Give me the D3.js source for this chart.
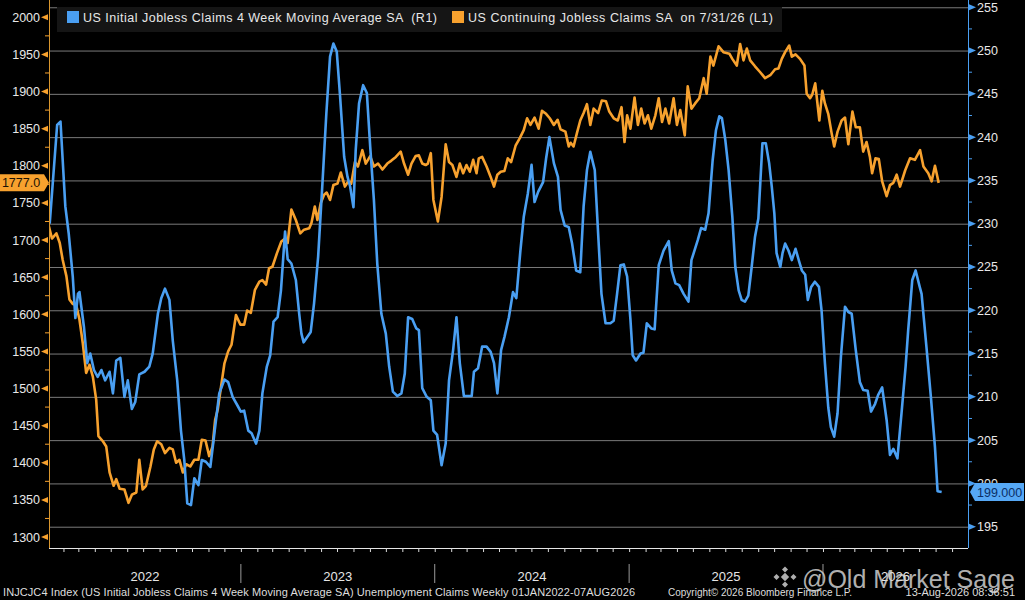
<!DOCTYPE html>
<html>
<head>
<meta charset="utf-8">
<script src="https://cdn.jsdelivr.net/npm/d3@7"></script>
<style>
  html, body { margin: 0; padding: 0; background: #000; }
  svg { display: block; font-family: "Liberation Sans", Arial, sans-serif; }
</style>
</head>
<body>
<svg id="chart" width="1025" height="600"></svg>
<script>
// weeks counted from 4 Jan 2022
const initialWeeks = [0.3,2.3,3.2,4.5,5.4,6.5,7.2,7.9,8.3,9.5,10.4,11.2,12.2,13.2,14.2,15.2,16.4,17.3,18.2,19.3,20.4,21.3,22.4,23.3,24.4,25.8,27.1,28.0,29.4,30.3,31.3,32.5,33.4,34.6,35.6,36.5,37.3,38.3,39.2,40.3,41.2,42.3,43.5,44.6,45.9,47.3,48.3,49.5,50.8,51.7,52.6,53.7,54.6,55.8,56.7,57.5,58.7,59.6,60.5,61.6,62.5,63.6,64.3,65.3,66.5,67.4,68.0,68.6,70.5,71.4,72.5,73.7,74.7,75.7,76.6,77.5,78.4,79.5,80.4,81.1,82.0,82.6,83.5,84.6,85.6,86.5,87.5,88.4,89.5,90.7,91.6,92.6,93.8,94.9,95.8,96.7,97.8,98.9,99.6,100.5,101.7,102.8,103.5,104.5,105.7,106.8,107.7,108.8,109.7,110.6,111.7,113.8,114.4,115.5,116.6,117.8,118.9,119.8,120.7,121.7,122.6,123.8,124.9,125.8,126.9,127.8,128.9,129.9,130.7,131.7,133.0,133.8,134.7,135.9,137.0,137.7,138.8,139.9,140.8,141.9,143.0,143.9,144.8,145.7,146.9,147.8,148.7,149.8,151.1,152.0,152.9,153.8,154.7,155.6,156.5,157.1,158.0,159.2,160.0,160.9,162.1,163.0,164.1,165.4,166.8,167.6,168.6,169.6,170.8,172.1,172.9,173.5,174.6,175.5,176.6,177.5,178.6,179.5,180.4,181.1,182.0,182.9,183.9,184.7,185.6,186.4,187.3,188.2,189.1,190.0,190.9,192.0,192.9,193.8,194.5,195.2,195.8,196.8,197.4,198.1,199.0,199.9,200.9,201.9,202.6,203.5,204.2,205.1,206.1,207.2,207.9,208.8,209.7,210.4,211.3,212.2,213.1,214.2,215.1,216.0,217.1,218.2,219.1,220.3,221.2,222.3,223.1,224.2,225.4,226.3,227.2,228.3,229.4,230.5,231.2,232.3,233.2,234.3,234.8,236.1,237.3,238.4,239.1,240.2];
const initialClaims = [230.0,241.4,241.8,232.0,228.9,223.9,219.1,221.9,222.1,218.1,213.9,215.0,213.1,212.3,213.1,211.9,212.9,210.4,214.2,214.5,210.0,211.9,208.6,209.4,212.6,212.9,213.5,215.0,219.6,221.4,222.5,221.2,216.5,211.9,206.1,202.7,197.7,197.5,200.6,199.8,202.7,202.5,201.9,205.8,210.4,212.0,211.7,210.0,209.0,208.3,208.4,206.1,205.8,204.6,206.1,210.4,213.5,214.8,218.7,219.2,222.3,229.1,225.9,225.4,223.5,219.6,217.3,216.3,217.5,220.8,226.2,235.0,242.7,249.3,250.8,249.9,244.7,237.7,235.4,234.3,231.9,238.5,243.9,246.0,245.1,238.9,232.7,225.4,219.6,217.3,213.5,210.6,210.1,210.4,212.7,219.2,219.0,217.9,217.7,211.0,210.0,209.6,206.1,205.6,202.1,204.6,211.9,215.4,219.2,213.9,210.1,210.1,212.9,213.3,215.8,215.8,215.2,213.9,210.4,215.4,216.9,219.2,222.1,221.4,226.9,230.8,233.5,236.8,232.5,233.7,234.8,237.5,240.0,237.0,235.4,231.6,229.8,229.6,227.7,224.6,224.4,232.0,236.2,238.3,236.2,228.9,221.9,218.5,218.5,218.8,221.9,225.2,225.3,223.9,218.9,214.8,214.2,215.0,215.1,218.5,217.9,217.8,225.2,226.9,228.0,224.6,223.1,222.9,221.9,221.0,225.8,226.6,228.1,229.5,229.3,231.2,237.3,240.8,242.4,242.2,239.7,236.2,230.8,225.0,222.3,221.2,221.0,221.7,225.0,228.5,230.6,239.3,239.3,237.0,234.3,231.2,226.6,225.0,226.6,227.7,226.9,225.8,227.1,225.6,224.6,224.1,221.2,222.7,223.3,222.7,220.0,213.9,208.8,206.5,205.4,208.1,214.6,220.4,219.8,219.6,215.4,211.7,210.8,210.7,208.3,209.2,210.2,211.1,207.3,203.3,204.0,202.9,208.1,213.5,217.7,223.5,224.6,222.7,221.9,215.8,210.0,204.2,199.1,199.0];

const continuingWeeks = [0.0,0.9,2.1,3.0,3.8,4.8,5.6,6.5,7.4,8.3,9.2,10.1,11.0,11.9,12.8,13.4,14.6,15.5,16.4,17.5,18.2,19.1,20.4,21.5,22.4,23.6,24.4,25.3,26.2,27.4,28.3,29.2,30.3,31.3,32.5,33.4,34.3,35.2,36.1,37.0,38.1,39.2,40.3,41.2,42.2,43.2,44.1,44.8,45.5,46.4,47.3,48.3,49.2,50.4,51.6,52.6,53.4,54.4,55.5,56.7,57.5,58.5,59.3,60.2,61.4,62.6,63.6,64.3,65.3,66.5,67.7,68.7,70.1,70.7,71.6,72.3,73.2,74.1,74.8,75.7,76.6,77.7,78.6,79.7,80.6,81.4,82.4,83.2,84.4,85.3,86.5,87.5,88.6,89.8,91.1,92.2,93.4,94.7,95.6,96.7,97.6,98.7,99.6,100.5,101.4,102.0,102.8,103.5,104.7,105.7,106.8,107.7,108.6,109.7,110.6,111.5,112.4,113.3,114.2,115.1,115.7,116.6,117.8,118.9,119.8,120.7,121.6,122.6,123.5,124.4,125.6,126.7,127.8,128.7,129.6,130.7,131.8,132.7,133.8,134.8,135.9,136.9,137.7,139.0,139.9,140.4,141.2,142.1,143.0,143.9,144.8,145.7,146.6,147.8,148.8,149.9,150.8,152.0,153.1,154.1,154.9,155.6,156.5,157.6,158.5,159.4,160.3,161.2,162.1,163.2,164.1,165.0,165.9,166.9,168.1,169.0,169.9,171.1,171.9,172.9,173.9,175.0,176.2,177.0,178.0,178.8,180.2,181.5,183.1,183.9,185.1,186.0,186.9,187.8,188.7,190.0,191.4,192.7,194.1,195.4,196.3,197.2,198.1,199.2,199.9,200.9,202.1,203.3,203.9,204.8,205.4,206.2,206.9,207.3,208.1,208.8,209.7,210.6,211.3,212.2,213.3,214.2,215.1,216.2,217.1,218.2,219.1,220.0,220.9,221.5,222.4,223.3,224.2,225.4,226.3,227.2,228.1,229.0,230.4,231.7,233.0,234.4,235.3,236.6,237.5,238.4,239.4];
const continuingClaims = [1720,1702,1709,1696,1673,1651,1620,1614,1613,1593,1561,1521,1532,1516,1485,1436,1429,1422,1387,1369,1378,1365,1364,1346,1357,1360,1404,1364,1369,1395,1418,1429,1425,1413,1420,1418,1400,1404,1387,1398,1395,1404,1404,1431,1430,1409,1422,1458,1472,1503,1534,1550,1559,1599,1586,1586,1605,1602,1633,1644,1646,1640,1662,1664,1682,1698,1702,1696,1741,1727,1709,1714,1716,1723,1745,1727,1750,1761,1764,1754,1774,1776,1791,1772,1779,1776,1805,1799,1821,1803,1813,1799,1803,1795,1803,1807,1812,1819,1803,1788,1803,1813,1814,1803,1801,1803,1817,1754,1725,1758,1829,1805,1801,1785,1803,1790,1801,1792,1808,1790,1810,1812,1799,1785,1772,1788,1792,1793,1810,1805,1827,1837,1848,1864,1855,1865,1850,1874,1870,1864,1855,1862,1849,1846,1826,1831,1826,1844,1861,1871,1883,1855,1877,1871,1888,1887,1873,1864,1861,1879,1832,1868,1850,1892,1855,1877,1857,1868,1850,1868,1891,1859,1877,1857,1891,1855,1875,1841,1907,1877,1884,1891,1918,1897,1947,1935,1961,1953,1951,1944,1935,1964,1942,1958,1942,1934,1926,1918,1922,1930,1931,1944,1953,1962,1947,1950,1944,1935,1897,1891,1896,1911,1879,1861,1901,1884,1870,1844,1826,1846,1861,1865,1829,1873,1852,1852,1819,1832,1812,1790,1810,1809,1779,1759,1774,1777,1788,1772,1794,1810,1808,1821,1799,1790,1779,1800,1777];

const leftTicks = d3.range(1300, 2001, 50);
const rightTicks = d3.range(195, 256, 5);
const years = [2022, 2023, 2024, 2025, 2026];

const lastContinuing = "1777.0";
const lastInitial = "199.000";

const legendInitial = "US Initial Jobless Claims 4 Week Moving Average SA  (R1)";
const legendContinuing = "US Continuing Jobless Claims SA  on 7/31/26 (L1)";
const footerLeft = "INJCJC4 Index (US Initial Jobless Claims 4 Week Moving Average SA) Unemployment Claims Weekly 01JAN2022-07AUG2026";
const footerMid = "Copyright\u00a9 2026 Bloomberg Finance L.P.";
const footerRight = "13-Aug-2026 08:36:51";

const blue = "#4a9ff2";
const orange = "#f7a12e";

const weekZero = new Date(2022, 0, 4);
function weekDate(w) {
    return new Date(weekZero.getTime() + w * 7 * 864e5);
}

const initialData = d3.zip(initialWeeks, initialClaims).map(d => ({date: weekDate(d[0]), value: d[1]}));
const continuingData = d3.zip(continuingWeeks, continuingClaims).map(d => ({date: weekDate(d[0]), value: d[1]}));

const plot = {left: 49, right: 968, top: 0, bottom: 548};

const svg = d3.select("#chart");
svg.append("rect").attr("width", 1025).attr("height", 600).attr("fill", "#000");

const x = d3.scaleTime()
    .domain([new Date(2022, 0, 1), new Date(2026, 9, 1)])
    .range([47, plot.right]);
const yL = d3.scaleLinear().domain([1285.2, 2023.3]).range([plot.bottom, plot.top]);
const yR = d3.scaleLinear().domain([192.54, 255.84]).range([plot.bottom, plot.top]);

svg.append("clipPath").attr("id", "plot-clip")
    .append("rect")
    .attr("x", plot.left).attr("y", plot.top)
    .attr("width", plot.right - plot.left).attr("height", plot.bottom - plot.top);

// grid lines on the right axis ticks
svg.append("g")
    .attr("transform", "translate(" + plot.left + ",0)")
    .call(d3.axisRight(yR).tickValues(rightTicks).tickSize(plot.right - plot.left).tickFormat(""))
    .call(g => g.select(".domain").remove())
    .selectAll("line").attr("stroke", "#7a7a7a").attr("stroke-width", 1);

// legend box
const legend = svg.append("g").attr("class", "legend");
legend.append("rect").attr("x", 57).attr("y", 7).attr("width", 725).attr("height", 25).attr("fill", "#151515");
legend.append("rect").attr("x", 67).attr("y", 11).attr("width", 12).attr("height", 12).attr("fill", blue);
legend.append("text").attr("x", 83).attr("y", 22).attr("fill", "#e8e8e8")
    .attr("textLength", 354).attr("lengthAdjust", "spacing")
    .style("font-size", "12.5px").style("white-space", "pre").text(legendInitial);
legend.append("rect").attr("x", 452).attr("y", 11).attr("width", 12).attr("height", 12).attr("fill", orange);
legend.append("text").attr("x", 468).attr("y", 22).attr("fill", "#e8e8e8")
    .attr("textLength", 305).attr("lengthAdjust", "spacing")
    .style("font-size", "12.5px").style("white-space", "pre").text(legendContinuing);

// lines
const lines = svg.append("g").attr("clip-path", "url(#plot-clip)");
lines.append("path")
    .datum(continuingData)
    .attr("fill", "none").attr("stroke", orange).attr("stroke-width", 2.6)
    .attr("stroke-linejoin", "round")
    .attr("d", d3.line().x(d => x(d.date)).y(d => yL(d.value)));
lines.append("path")
    .datum(initialData)
    .attr("fill", "none").attr("stroke", blue).attr("stroke-width", 2.6)
    .attr("stroke-linejoin", "round")
    .attr("d", d3.line().x(d => x(d.date)).y(d => yR(d.value)));

// bottom axis
svg.append("line")
    .attr("x1", plot.left).attr("x2", plot.right)
    .attr("y1", plot.bottom + 0.5).attr("y2", plot.bottom + 0.5)
    .attr("stroke", "#e6e6e6").attr("stroke-width", 1.2);
svg.append("g")
    .attr("transform", "translate(0," + plot.bottom + ")")
    .call(d3.axisBottom(x)
        .tickValues(d3.timeMonth.range(new Date(2022, 1, 1), new Date(2026, 9, 1)))
        .tickSize(4).tickFormat(""))
    .call(g => g.select(".domain").remove())
    .selectAll("line").attr("stroke", "#dcdcdc");

const yearStarts = d3.timeYear.range(new Date(2023, 0, 1), new Date(2026, 1, 1));
svg.append("g").selectAll("line")
    .data(yearStarts).enter().append("line")
    .attr("x1", d => x(d)).attr("x2", d => x(d))
    .attr("y1", 564).attr("y2", 583)
    .attr("stroke", "#9a9a9a").attr("stroke-width", 1);

svg.append("g").selectAll("text")
    .data(years).enter().append("text")
    .attr("x", d => {
        const a = Math.max(x(new Date(d, 0, 1)), plot.left);
        const b = Math.min(x(new Date(d + 1, 0, 1)), plot.right);
        return (a + b) / 2;
    })
    .attr("y", 581)
    .attr("text-anchor", "middle")
    .attr("fill", "#e6e6e6")
    .style("font-size", "13px")
    .text(d => d);

// left axis
const leftAxis = svg.append("g")
    .attr("transform", "translate(" + plot.left + ",0)")
    .call(d3.axisLeft(yL).tickValues(leftTicks).tickSize(0).tickPadding(9).tickFormat(d3.format("d")));
leftAxis.select(".domain").remove();
leftAxis.selectAll("text").attr("fill", "#e8e8e8").style("font-size", "12.5px")
    .style("font-family", "'Liberation Sans', Arial, sans-serif");
svg.append("line")
    .attr("x1", plot.left + 0.5).attr("x2", plot.left + 0.5)
    .attr("y1", plot.top).attr("y2", plot.bottom)
    .attr("stroke", "#d9962e").attr("stroke-width", 1);
svg.append("g").selectAll("path")
    .data(leftTicks).enter().append("path")
    .attr("d", d => "M" + (plot.left - 1) + "," + (yL(d) - 3) + "L" + (plot.left - 1) + "," + (yL(d) + 3) + "L" + (plot.left - 8) + "," + yL(d) + "Z")
    .attr("fill", orange);
svg.append("g").selectAll("line")
    .data(d3.range(1325, 2001, 50)).enter().append("line")
    .attr("x1", plot.left - 4).attr("x2", plot.left)
    .attr("y1", d => yL(d)).attr("y2", d => yL(d))
    .attr("stroke", orange);

// right axis
const rightAxis = svg.append("g")
    .attr("transform", "translate(" + plot.right + ",0)")
    .call(d3.axisRight(yR).tickValues(rightTicks).tickSize(0).tickPadding(9).tickFormat(d3.format("d")));
rightAxis.select(".domain").remove();
rightAxis.selectAll("text").attr("fill", "#e8e8e8").style("font-size", "12.5px")
    .style("font-family", "'Liberation Sans', Arial, sans-serif");
svg.append("line")
    .attr("x1", plot.right + 0.5).attr("x2", plot.right + 0.5)
    .attr("y1", plot.top).attr("y2", plot.bottom)
    .attr("stroke", blue).attr("stroke-width", 1);
svg.append("g").selectAll("path")
    .data(rightTicks).enter().append("path")
    .attr("d", d => "M" + (plot.right + 1) + "," + (yR(d) - 3) + "L" + (plot.right + 1) + "," + (yR(d) + 3) + "L" + (plot.right + 8) + "," + yR(d) + "Z")
    .attr("fill", blue);
svg.append("g").selectAll("line")
    .data(d3.range(197.5, 256, 5)).enter().append("line")
    .attr("x1", plot.right).attr("x2", plot.right + 4)
    .attr("y1", d => yR(d)).attr("y2", d => yR(d))
    .attr("stroke", blue);

// last value badges
const yc = yL(+lastContinuing);
svg.append("path")
    .attr("d", "M0," + (yc - 8.5) + "H44L49," + yc + "L44," + (yc + 8.5) + "H0Z")
    .attr("fill", orange);
svg.append("text").attr("x", 21).attr("y", yc + 4.5).attr("text-anchor", "middle")
    .attr("fill", "#1a1205").style("font-size", "12.5px").text(lastContinuing);

const yi = yR(+lastInitial);
svg.append("path")
    .attr("d", "M970," + yi + "L975," + (yi - 9) + "H1024V" + (yi + 9) + "H975Z")
    .attr("fill", "#56a8f5");
svg.append("text").attr("x", 977).attr("y", yi + 4.5)
    .attr("fill", "#0b2f66").style("font-size", "12.5px").text(lastInitial);

// footer
const footer = svg.append("g").attr("fill", "#dedede").style("font-size", "11px");
footer.append("text").attr("x", 3).attr("y", 596).attr("textLength", 632).attr("lengthAdjust", "spacing").text(footerLeft);
footer.append("text").attr("x", 668).attr("y", 596).style("font-size", "10px").text(footerMid);
footer.append("text").attr("x", 1015).attr("y", 596).attr("text-anchor", "end").text(footerRight);

// watermark
const mark = svg.append("g").attr("fill", "#d6d6d6").attr("opacity", 0.82);
const logo = [[0, 0, 4.2], [-8.5, 0, 3], [8.5, 0, 3], [0, -7.5, 3], [0, 7.5, 3]];
mark.selectAll("path").data(logo).enter().append("path")
    .attr("d", d => "M" + (785 + d[0]) + "," + (577 + d[1] - d[2]) + "l" + d[2] + "," + d[2] + "l" + (-d[2]) + "," + d[2] + "l" + (-d[2]) + "," + (-d[2]) + "Z");
mark.append("text").attr("x", 802).attr("y", 588)
    .style("font-size", "25px").text("@Old Market Sage");
</script>
</body>
</html>
